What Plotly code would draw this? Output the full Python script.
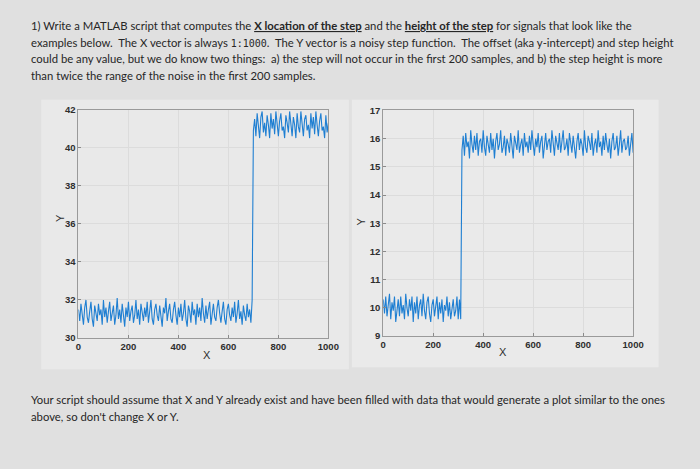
import plotly.graph_objects as go

# ---------------- data ----------------
X1_low = list(range(0, 700, 5))
Y1_low = [31.5, 30.9, 31.8, 31.2, 30.7, 31.6, 32.0, 31.1, 30.8, 31.4,
          31.9, 31.0, 30.6, 31.7, 31.3, 30.9, 31.8, 31.2, 31.5, 30.7,
          32.0, 31.1, 31.6, 30.8, 31.4, 31.9, 30.9, 31.3, 31.7, 30.7,
          31.2, 32.1, 31.0, 31.5, 30.8, 31.8, 31.3, 30.6, 31.6, 31.1,
          31.9, 30.9, 31.4, 31.7, 30.8, 31.2, 32.0, 31.0, 31.5, 30.7,
          31.8, 31.3, 30.9, 31.6, 31.1, 31.9, 30.8, 31.4, 32.0, 31.0,
          30.7, 31.5, 31.8, 31.2, 30.9, 31.7, 31.1, 30.6, 31.6, 31.3,
          32.1, 30.9, 31.4, 31.8, 31.0, 30.8, 31.5, 31.9, 31.2, 30.7,
          31.6, 31.1, 31.8, 30.9, 31.3, 32.0, 31.0, 30.6, 31.7, 31.4,
          30.8, 31.9, 31.2, 31.5, 30.7, 31.8, 31.1, 31.6, 30.9, 32.1,
          31.3, 30.8, 31.7, 31.0, 31.5, 31.9, 30.7, 31.2, 31.8, 31.1,
          30.9, 31.6, 32.0, 31.3, 30.8, 31.4, 31.9, 31.0, 30.7, 31.5,
          31.8, 31.2, 30.9, 31.6, 31.1, 31.9, 30.8, 31.3, 32.0, 31.0,
          31.4, 30.7, 31.7, 31.2, 30.9, 31.8, 31.1, 31.5, 30.8, 32.0]
X1_high = list(range(700, 1005, 5))
Y1_high = [40.9, 41.5, 40.6, 41.8, 41.1, 40.5, 41.6, 41.9, 40.8, 41.3,
           40.6, 41.7, 41.2, 40.5, 41.8, 41.0, 41.5, 40.7, 41.9, 41.2,
           40.6, 41.4, 41.8, 40.9, 41.1, 40.5, 41.7, 41.3, 40.8, 41.9,
           41.0, 40.6, 41.6, 41.2, 40.5, 41.8, 41.1, 40.8, 41.9, 41.3,
           40.6, 41.5, 41.7, 40.9, 41.2, 40.5, 41.8, 41.0, 41.6, 40.7,
           41.9, 41.2, 40.6, 41.4, 41.8, 40.9, 41.1, 40.5, 41.7, 40.8,
           41.3]

X2_low = list(range(0, 315, 5))
Y2_low = [10.3, 9.8, 10.4, 9.7, 10.1, 10.5, 9.6, 10.2, 9.9, 10.4,
          9.5, 10.0, 10.3, 9.7, 10.4, 9.8, 10.1, 9.6, 10.5, 10.0,
          9.7, 10.3, 9.9, 10.4, 9.5, 10.2, 9.8, 10.4, 9.6, 10.1,
          10.3, 9.7, 10.5, 9.9, 9.6, 10.2, 10.4, 9.8, 9.5, 10.1,
          10.3, 9.7, 10.0, 10.4, 9.6, 10.2, 9.8, 10.3, 9.5, 10.1,
          9.9, 10.4, 9.7, 10.2, 9.6, 10.0, 10.3, 9.7, 9.9, 10.4,
          9.6, 10.3, 9.6]
X2_high = list(range(315, 1005, 5))
Y2_high = [15.6, 16.1, 15.4, 16.2, 15.7, 15.9, 15.3, 16.3, 15.8, 15.5,
           16.1, 15.6, 16.2, 15.4, 15.9, 16.0, 15.5, 16.3, 15.7, 15.4,
           16.1, 15.8, 15.5, 16.2, 15.6, 16.0, 15.3, 15.9, 16.2, 15.6,
           15.8, 16.3, 15.5, 15.7, 16.1, 15.4, 16.0, 15.8, 15.5, 16.2,
           15.7, 15.3, 16.1, 15.9, 15.6, 16.3, 15.5, 15.8, 16.0, 15.4,
           16.2, 15.7, 15.9, 15.5, 16.1, 15.6, 16.3, 15.8, 15.4, 16.0,
           15.7, 16.2, 15.5, 15.9, 16.1, 15.3, 15.8, 16.2, 15.6, 15.9,
           16.0, 15.5, 16.3, 15.7, 15.4, 16.1, 15.8, 15.6, 16.2, 15.5,
           15.9, 16.3, 15.6, 15.7, 16.0, 15.4, 16.2, 15.8, 15.5, 16.1,
           15.7, 15.3, 15.9, 16.2, 15.6, 16.0, 15.8, 15.4, 16.3, 15.7,
           15.5, 16.1, 15.9, 15.6, 16.2, 15.4, 15.8, 16.0, 15.5, 16.3,
           15.7, 15.9, 15.4, 16.1, 15.6, 16.2, 15.8, 15.5, 16.0, 15.3,
           15.9, 16.2, 15.6, 15.7, 16.1, 15.4, 15.8, 16.3, 15.5, 15.9,
           16.0, 15.6, 15.7, 16.1, 15.4, 15.8, 16.2, 15.5]

X_TICKS = [0, 200, 400, 600, 800, 1000]
Y1_TICKS = [30, 32, 34, 36, 38, 40, 42]
Y2_TICKS = [9, 10, 11, 12, 13, 14, 15, 16, 17]

TEXT_TOP = [
    "1) Write a MATLAB script that computes the <b><u>X location of the step</u></b> and the "
    "<b><u>height of the step</u></b> for signals that look like the",
    "examples below.  The X vector is always "
    "<span style=\"font-family:'DejaVu Sans Mono';font-size:10px\">1:1000</span>.  "
    "The Y vector is a noisy step function.  The offset (aka y-intercept) and step height",
    "could be any value, but we do know two things:  a) the step will not occur in the first 200 samples, "
    "and b) the step height is more",
    "than twice the range of the noise in the first 200 samples.",
]
TEXT_BOTTOM = [
    "Your script should assume that X and Y already exist and have been filled with data that would "
    "generate a plot similar to the ones",
    "above, so don't change X or Y.",
]

# ---------------- figure ----------------
W, H = 700, 469
LINE = "#1f7fd2"
TICKFONT = dict(family="Liberation Sans, Arial", size=9.5, color="#2e2e2e", weight="bold")

fig = go.Figure()
fig.add_trace(go.Scatter(x=X1_low + X1_high, y=Y1_low + Y1_high, mode="lines",
                         line=dict(color=LINE, width=1.1), xaxis="x", yaxis="y",
                         showlegend=False))
fig.add_trace(go.Scatter(x=X2_low + X2_high, y=Y2_low + Y2_high, mode="lines",
                         line=dict(color=LINE, width=1.1), xaxis="x2", yaxis="y2",
                         showlegend=False))

def px_x(p):
    return p / W

def px_y(p):
    return 1 - p / H

common = dict(showgrid=True, gridcolor="#dcdcdc", gridwidth=1, zeroline=False,
              showline=True, linecolor="#9a9a9a", linewidth=1, mirror=True,
              ticks="inside", ticklen=3, tickcolor="#8a8a8a", tickfont=TICKFONT)

fig.update_layout(
    width=W, height=H, margin=dict(l=0, r=0, t=0, b=0),
    paper_bgcolor="#e0e0e0", plot_bgcolor="#f4f4f4",
    xaxis=dict(domain=[px_x(77), px_x(332)], range=[0, 1000], tickvals=X_TICKS,
               anchor="y", **common),
    yaxis=dict(domain=[px_y(340), px_y(106)], range=[30, 42], tickvals=Y1_TICKS,
               anchor="x", **common),
    xaxis2=dict(domain=[px_x(388), px_x(643)], range=[0, 1000], tickvals=X_TICKS,
                anchor="y2", **common),
    yaxis2=dict(domain=[px_y(338), px_y(107)], range=[9, 17], tickvals=Y2_TICKS,
                anchor="x2", **common),
)

# MATLAB figure window backgrounds
fig.add_shape(type="rect", xref="paper", yref="paper", x0=px_x(39), x1=px_x(353),
              y0=px_y(372), y1=px_y(96), fillcolor="#e9e9e9", line_width=0, layer="below")
fig.add_shape(type="rect", xref="paper", yref="paper", x0=px_x(356), x1=px_x(669),
              y0=px_y(370), y1=px_y(96), fillcolor="#eaeaea", line_width=0, layer="below")

# axis titles
ann_font = dict(family="Liberation Sans, Arial", size=11, color="#2e2e2e")
fig.add_annotation(text="X", x=px_x(202), y=px_y(366), xref="paper", yref="paper",
                   showarrow=False, font=ann_font)
fig.add_annotation(text="X", x=px_x(516), y=px_y(362), xref="paper", yref="paper",
                   showarrow=False, font=ann_font)
fig.add_annotation(text="Y", x=px_x(50), y=px_y(217), xref="paper", yref="paper",
                   showarrow=False, font=ann_font, textangle=-90)
fig.add_annotation(text="Y", x=px_x(365), y=px_y(221), xref="paper", yref="paper",
                   showarrow=False, font=ann_font, textangle=-90)

# paragraph text
txt_font = dict(family="Lato", size=11.3, color="#262626")
for i, t in enumerate(TEXT_TOP):
    fig.add_annotation(text=t, x=px_x(27), y=px_y(20 + 17 * i), xref="paper", yref="paper",
                       xanchor="left", yanchor="middle", showarrow=False, font=txt_font)
for i, t in enumerate(TEXT_BOTTOM):
    fig.add_annotation(text=t, x=px_x(27), y=px_y(403 + 17 * i), xref="paper", yref="paper",
                       xanchor="left", yanchor="middle", showarrow=False, font=txt_font)

fig.write_html(
    "out.html",
    config={"displayModeBar": False},
    post_script="document.body.style.margin='0';"
                "document.documentElement.style.overflow='hidden';"
                "document.body.style.overflow='hidden';",
)
